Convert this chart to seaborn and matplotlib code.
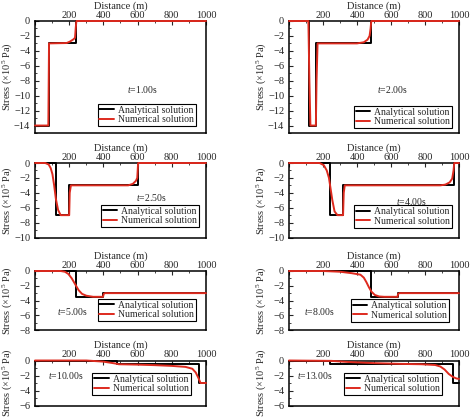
import matplotlib
matplotlib.use("Agg")
import matplotlib.pyplot as plt
import numpy as np
import pandas as pd
import seaborn as sns
from matplotlib.ticker import MultipleLocator

# values (distance in m, stress in 1e5 Pa)
ana1_x = [0, 80, 80, 240, 240, 1000]
ana1_y = [-14, -14, -3, -3, 0, 0]
num1_x = [0, 78, 82, 185, 205, 225, 234, 238, 242, 1000]
num1_y = [-14, -14, -3, -2.95, -2.75, -2.45, -2.25, -1, 0, 0]

ana2_x = [0, 120, 120, 160, 160, 480, 480, 1000]
ana2_y = [0, 0, -14, -14, -3, -3, 0, 0]
num2_x = [0, 114, 120, 126, 158, 162, 168, 400, 440, 462, 474, 480, 484, 1000]
num2_y = [0, 0, -8, -14, -14, -8, -3, -3, -2.85, -2.5, -2.0, -1.0, 0, 0]

ana3_x = [0, 120, 120, 200, 200, 600, 600, 1000]
ana3_y = [0, 0, -7, -7, -3, -3, 0, 0]
num3_x = [0, 60, 80, 92, 102, 112, 122, 135, 150, 200, 203, 210, 545, 572, 590, 598, 603, 1000]
num3_y = [0, 0, -0.2, -0.7, -1.5, -3, -4.8, -6.3, -7, -7, -4, -3, -3, -2.8, -2.4, -2, 0, 0]

ana4_x = [0, 240, 240, 320, 320, 968, 968, 1000]
ana4_y = [0, 0, -7, -7, -3, -3, 0, 0]
num4_x = [0, 180, 205, 222, 235, 245, 255, 268, 285, 318, 322, 328, 890, 920, 945, 960, 968, 972, 1000]
num4_y = [0, 0, -0.3, -1, -2, -3.5, -5, -6.5, -7, -7, -4, -3, -3, -2.9, -2.6, -2.1, -1, 0, 0]

ana5_x = [0, 240, 240, 400, 400, 1000]
ana5_y = [0, 0, -3.5, -3.5, -3, -3]
num5_x = [0, 150, 175, 195, 215, 235, 255, 275, 300, 340, 398, 402, 410, 1000]
num5_y = [0, 0, -0.1, -0.4, -1.0, -1.8, -2.6, -3.1, -3.35, -3.5, -3.5, -3.1, -3, -3]

ana6_x = [0, 480, 480, 640, 640, 1000]
ana6_y = [0, 0, -3.5, -3.5, -3, -3]
num6_x = [0, 200, 300, 370, 420, 440, 455, 470, 485, 505, 530, 560, 638, 642, 650, 1000]
num6_y = [0, 0, -0.1, -0.3, -0.5, -0.9, -1.5, -2.2, -2.8, -3.25, -3.45, -3.5, -3.5, -3.1, -3, -3]

ana7_x = [0, 480, 480, 960, 960, 1000]
ana7_y = [0, 0, -0.5, -0.5, -3, -3]
num7_x = [0, 300, 400, 470, 490, 600, 700, 800, 880, 920, 940, 955, 968, 1000]
num7_y = [0, 0, -0.15, -0.4, -0.5, -0.55, -0.62, -0.72, -0.85, -1.1, -1.6, -2.3, -3, -3]

ana8_x = [0, 240, 240, 965, 965, 1000]
ana8_y = [0, 0, -0.5, -0.5, -3, -3]
num8_x = [0, 250, 350, 500, 650, 780, 860, 890, 915, 940, 965, 985, 1000]
num8_y = [0, -0.05, -0.2, -0.35, -0.45, -0.5, -0.6, -0.8, -1.2, -1.8, -2.2, -2.4, -2.45]

times = ["1.00", "2.00", "2.50", "4.00", "5.00", "8.00", "10.00", "13.00"]
y_bottoms = [-15, -15, -10, -10, -8, -8, -6, -6]
x_ticks = [0, 200, 400, 600, 800, 1000]
x_tick_labels = ["", "200", "400", "600", "800", "1000"]

W, H = 474, 419
red = "#de2a1e"

sns.set_style("ticks")
plt.rcParams.update({
    "font.family": ["Liberation Serif", "DejaVu Serif"],
    "mathtext.fontset": "custom",
    "mathtext.rm": "Liberation Serif",
    "mathtext.it": "Liberation Serif:italic",
    "xtick.direction": "in",
    "ytick.direction": "in",
    "axes.linewidth": 1.1,
    "axes.edgecolor": "black",
})

fig = plt.figure(figsize=(W / 100, H / 100), dpi=100)

# axes boxes in pixels: (left, right) per column, (top, bottom) per row
col_px = [(35, 206), (289, 459)]
row_px = [(21, 133), (163, 237.5), (271, 330), (360.5, 405.5)]
text_pos = [(0.63, 0.39), (0.61, 0.39), (0.68, 0.54), (0.72, 0.48),
            (0.22, 0.32), (0.18, 0.32), (0.18, 0.66), (0.15, 0.66)]
legend_pos = [(0.94, 0.06), (0.96, 0.045), (0.96, 0.14), (0.96, 0.13),
              (0.94, 0.15), (0.94, 0.14), (0.91, 0.23), (0.90, 0.23)]

panels = [
    (ana1_x, ana1_y, num1_x, num1_y),
    (ana2_x, ana2_y, num2_x, num2_y),
    (ana3_x, ana3_y, num3_x, num3_y),
    (ana4_x, ana4_y, num4_x, num4_y),
    (ana5_x, ana5_y, num5_x, num5_y),
    (ana6_x, ana6_y, num6_x, num6_y),
    (ana7_x, ana7_y, num7_x, num7_y),
    (ana8_x, ana8_y, num8_x, num8_y),
]

for i, (ax_, ay_, nx_, ny_) in enumerate(panels):
    row, col = divmod(i, 2)
    x0, x1 = col_px[col]
    y0, y1 = row_px[row]
    ax = fig.add_axes([x0 / W, 1 - y1 / H, (x1 - x0) / W, (y1 - y0) / H])

    ana = pd.DataFrame({"x": ax_, "y": ay_})
    num = pd.DataFrame({"x": nx_, "y": ny_})
    sns.lineplot(x="x", y="y", data=ana, ax=ax, color="black", lw=1.4,
                 sort=False, estimator=None, label="Analytical solution",
                 clip_on=False, zorder=3)
    sns.lineplot(x="x", y="y", data=num, ax=ax, color=red, lw=1.4,
                 sort=False, estimator=None, label="Numerical solution",
                 clip_on=False, zorder=4)

    ax.set_xlim(0, 1000)
    ax.set_ylim(y_bottoms[i], 0)
    ax.xaxis.tick_top()
    ax.xaxis.set_label_position("top")
    ax.set_xticks(x_ticks)
    ax.set_xticklabels(x_tick_labels)
    ax.xaxis.set_minor_locator(MultipleLocator(100))
    ax.set_yticks(np.arange(y_bottoms[i] if y_bottoms[i] % 2 == 0 else y_bottoms[i] + 1, 1, 2))
    ax.yaxis.set_minor_locator(MultipleLocator(1))
    ax.tick_params(axis="both", which="major", labelsize=7.5, length=3, width=0.8)
    ax.tick_params(axis="both", which="minor", length=1.5, width=0.6)
    ax.tick_params(axis="x", pad=1)
    ax.tick_params(axis="y", pad=3.5)

    ax.set_xlabel("Distance (m)", fontsize=7.5, labelpad=1.5)
    ax.set_ylabel("Stress (×10$^5$ Pa)", fontsize=7.5)
    ax.yaxis.set_label_coords(-0.125, 0.5)

    ax.text(*text_pos[i], "$t$=" + times[i] + "s", transform=ax.transAxes,
            ha="center", va="center", fontsize=7)
    leg = ax.legend(loc="lower right", bbox_to_anchor=legend_pos[i],
                    fontsize=7, frameon=True, fancybox=False, framealpha=1,
                    edgecolor="black", borderpad=0.2, labelspacing=0.05,
                    handlelength=1.5, handletextpad=0.4, borderaxespad=0)
    leg.get_frame().set_linewidth(0.8)
    for spine in ax.spines.values():
        spine.set_visible(True)

fig.savefig("out.png", dpi=100)
